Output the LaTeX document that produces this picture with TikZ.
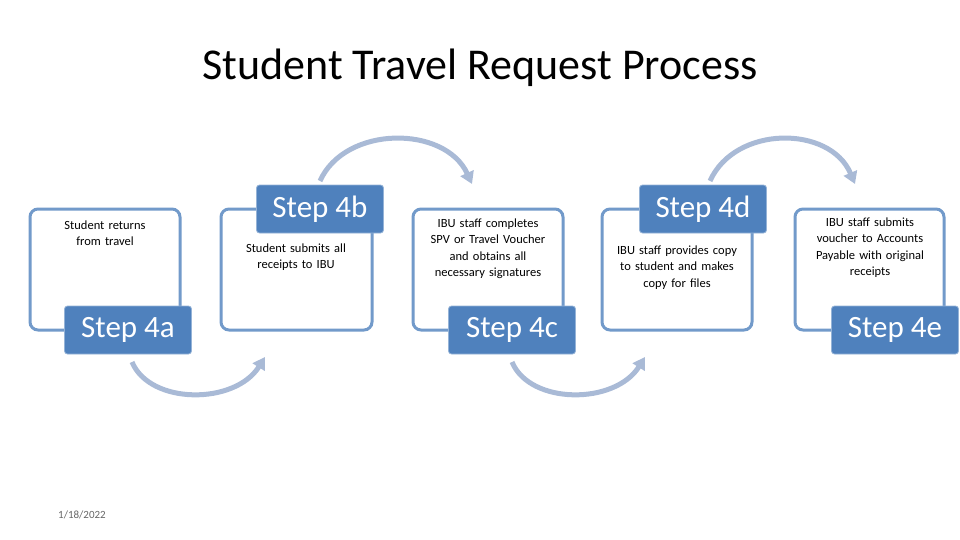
\documentclass[tikz,border=0pt]{standalone}
\usepackage{fontspec}
\setmainfont{Carlito}
\usetikzlibrary{arrows.meta}
\definecolor{bl}{HTML}{4F81BD}
\definecolor{arr}{HTML}{A9BAD6}
\tikzset{
 card/.style={draw=bl!80, line width=3pt, fill=white, rounded corners=8pt},
 lab/.style={fill=bl, draw=bl!60!white, line width=0.8pt, rounded corners=3pt, text=white, font=\fontsize{31}{31}\selectfont, minimum width=127pt, minimum height=48pt},
 desc/.style={font=\fontsize{12.5}{16.5}\selectfont, align=center, text width=145pt, anchor=north},
 flow/.style={draw=arr, line width=5pt, -{Triangle[length=12pt,width=14pt]}}
}
\begin{document}
\begin{tikzpicture}[x=1pt,y=-1pt]
\useasboundingbox (0,0) rectangle (960,540);
\node (title) at (480,68) {\fontsize{44}{48}\selectfont Student Travel Request Process};
% cards
\path[card] (30,209) rectangle (180,330);
\path[card] (221,209) rectangle (372,330);
\path[card] (413,209) rectangle (563,330);
\path[card] (602,209) rectangle (752,330);
\path[card] (795,209) rectangle (944,330);
\node[desc] (da) at (105,217) {Student returns\\from travel};
\node[desc] (db) at (296,240) {Student submits all\\receipts to IBU};
\node[desc] (dc) at (488,215) {IBU staff completes\\SPV or Travel Voucher\\and obtains all\\necessary signatures};
\node[desc] (dd) at (677,242) {IBU staff provides copy\\to student and makes\\copy for files};
\node[desc] (de) at (870,214) {IBU staff submits\\voucher to Accounts\\Payable with original\\receipts};
\node[lab] (a) at (128,330) {Step 4a};
\node[lab] (b) at (320,209) {Step 4b};
\node[lab] (c) at (512,330) {Step 4c};
\node[lab] (d) at (703,209) {Step 4d};
\node[lab] (e) at (895,330) {Step 4e};
% arrows
\coordinate (a1) at (132,362); \coordinate (a2) at (265,357);
\draw[flow] (a1) .. controls (150,405) and (235,405) .. (a2);
\coordinate (c1) at (512,362); \coordinate (c2) at (645,357);
\draw[flow] (c1) .. controls (530,405) and (615,405) .. (c2);
\coordinate (b1) at (320,181); \coordinate (b2) at (472,184);
\draw[flow] (b1) .. controls (345,125) and (445,125) .. (b2);
\coordinate (d1) at (710,181); \coordinate (d2) at (855,184);
\draw[flow] (d1) .. controls (735,125) and (830,125) .. (d2);
\node[font=\fontsize{11}{12}\selectfont, text=black!60] (date) at (82,515) {1/18/2022};
\end{tikzpicture}
\end{document}
